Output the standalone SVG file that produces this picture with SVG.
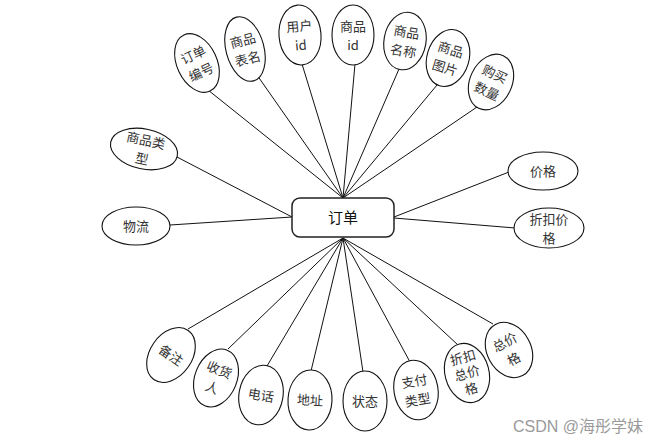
<svg xmlns="http://www.w3.org/2000/svg" width="664" height="444" viewBox="0 0 664 444">
<style>
.e{fill:#fff;stroke:#111;stroke-width:1.1}
.t{font-family:"Noto Sans CJK SC","Liberation Sans",sans-serif;font-size:13px;fill:#333;text-anchor:middle}
.c line{stroke:#111;stroke-width:1}
.hub{fill:#fff;stroke:#222;stroke-width:1.5}
.ht{font-family:"Noto Sans CJK SC","Liberation Sans",sans-serif;font-size:15px;fill:#111;text-anchor:middle}
.wm{font-family:"Liberation Sans","Noto Sans CJK SC",sans-serif;font-size:16px;fill:#9a9a9a}
</style>
<rect width="664" height="444" fill="#fff"/>
<g id="connectors" class="c">
<line x1="343" y1="198" x2="208" y2="90"/>
<line x1="343" y1="198" x2="257" y2="75"/>
<line x1="343" y1="198" x2="302" y2="64"/>
<line x1="343" y1="198" x2="355" y2="64"/>
<line x1="343" y1="198" x2="399" y2="69"/>
<line x1="343" y1="198" x2="437" y2="85"/>
<line x1="343" y1="198" x2="477" y2="107"/>
<line x1="292" y1="217" x2="177" y2="157"/>
<line x1="292" y1="217" x2="170" y2="225"/>
<line x1="394" y1="217" x2="509" y2="172"/>
<line x1="394" y1="218" x2="515" y2="228"/>
<line x1="343" y1="238" x2="188" y2="329"/>
<line x1="343" y1="238" x2="228" y2="349"/>
<line x1="343" y1="238" x2="267" y2="366"/>
<line x1="343" y1="238" x2="311" y2="371"/>
<line x1="343" y1="238" x2="363" y2="372"/>
<line x1="343" y1="238" x2="410" y2="362"/>
<line x1="343" y1="238" x2="458" y2="345"/>
<line x1="343" y1="238" x2="493" y2="324"/>
</g>
<g id="order">
<rect class="hub" x="292" y="198" width="102" height="39" rx="8"/>
<text class="ht" x="343" y="223">订单</text>
</g>
<g id="n-ddbh" transform="translate(197,63) rotate(-25)">
<ellipse class="e" rx="20" ry="31"/>
<text class="t"><tspan x="0" y="-4">订单</tspan><tspan x="0" y="15">编号</tspan></text>
</g>
<g id="n-spbm" transform="translate(245,49) rotate(-15)">
<ellipse class="e" rx="19" ry="33"/>
<text class="t"><tspan x="0" y="-4">商品</tspan><tspan x="0" y="15">表名</tspan></text>
</g>
<g id="n-yhid" transform="translate(300,35) rotate(-5)">
<ellipse class="e" rx="21" ry="30"/>
<text class="t"><tspan x="0" y="-4">用户</tspan><tspan x="0" y="15">id</tspan></text>
</g>
<g id="n-spid" transform="translate(353,35)">
<ellipse class="e" rx="21" ry="30"/>
<text class="t"><tspan x="0" y="-4">商品</tspan><tspan x="0" y="15">id</tspan></text>
</g>
<g id="n-spmc" transform="translate(405,41) rotate(10)">
<ellipse class="e" rx="21" ry="29"/>
<text class="t"><tspan x="0" y="-4">商品</tspan><tspan x="0" y="15">名称</tspan></text>
</g>
<g id="n-sptp" transform="translate(448,58) rotate(17)">
<ellipse class="e" rx="21" ry="29"/>
<text class="t"><tspan x="0" y="-4">商品</tspan><tspan x="0" y="15">图片</tspan></text>
</g>
<g id="n-gmsl" transform="translate(491,82) rotate(25)">
<ellipse class="e" rx="21" ry="29"/>
<text class="t"><tspan x="0" y="-4">购买</tspan><tspan x="0" y="15">数量</tspan></text>
</g>
<g id="n-splx" transform="translate(144,149) rotate(12)">
<ellipse class="e" rx="34" ry="20"/>
<text class="t"><tspan x="0" y="-4">商品类</tspan><tspan x="0" y="15">型</tspan></text>
</g>
<g id="n-wl" transform="translate(136,226)">
<ellipse class="e" rx="34" ry="19"/>
<text class="t" y="5">物流</text>
</g>
<g id="n-jg" transform="translate(543,171)">
<ellipse class="e" rx="35" ry="19"/>
<text class="t" y="5">价格</text>
</g>
<g id="n-zkjg" transform="translate(549,228)">
<ellipse class="e" rx="35" ry="20"/>
<text class="t"><tspan x="0" y="-4">折扣价</tspan><tspan x="0" y="15">格</tspan></text>
</g>
<g id="n-bz" transform="translate(171,355) rotate(35)">
<ellipse class="e" rx="21" ry="30"/>
<text class="t" y="5">备注</text>
</g>
<g id="n-shr" transform="translate(216,378) rotate(22)">
<ellipse class="e" rx="21" ry="30"/>
<text class="t"><tspan x="0" y="-4">收货</tspan><tspan x="0" y="15">人</tspan></text>
</g>
<g id="n-dh" transform="translate(261,395) rotate(10)">
<ellipse class="e" rx="22" ry="30"/>
<text class="t" y="5">电话</text>
</g>
<g id="n-dz" transform="translate(310,400) rotate(3)">
<ellipse class="e" rx="22" ry="30"/>
<text class="t" y="5">地址</text>
</g>
<g id="n-zt" transform="translate(365,401)">
<ellipse class="e" rx="22" ry="30"/>
<text class="t" y="5">状态</text>
</g>
<g id="n-zflx" transform="translate(416,390) rotate(-10)">
<ellipse class="e" rx="22" ry="30"/>
<text class="t"><tspan x="0" y="-4">支付</tspan><tspan x="0" y="15">类型</tspan></text>
</g>
<g id="n-zkzjg" transform="translate(467,373) rotate(-15)">
<ellipse class="e" rx="22" ry="30"/>
<text class="t"><tspan x="0" y="-11">折扣</tspan><tspan x="0" y="5">总价</tspan><tspan x="0" y="21">格</tspan></text>
</g>
<g id="n-zjg" transform="translate(509,350) rotate(-28)">
<ellipse class="e" rx="22" ry="29"/>
<text class="t"><tspan x="0" y="-4">总价</tspan><tspan x="0" y="15">格</tspan></text>
</g>
<text class="wm" x="513" y="432">CSDN @海彤学妹</text>
</svg>
